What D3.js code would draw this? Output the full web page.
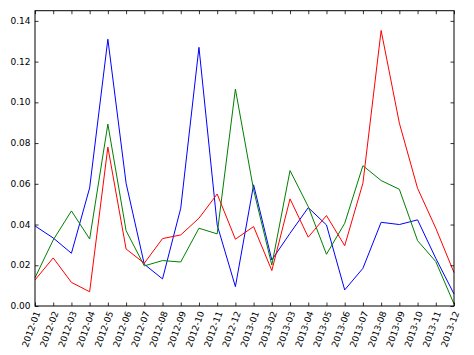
<!DOCTYPE html>
<html><head><meta charset="utf-8">
<script src="https://cdn.jsdelivr.net/npm/d3@7"></script>
<style>
html,body{margin:0;padding:0;background:#fff;}
text{font-family:"DejaVu Sans",sans-serif;}
</style>
</head><body>
<svg id="chart" width="474" height="355"></svg>
<script>
const months = ["2012-01","2012-02","2012-03","2012-04","2012-05","2012-06","2012-07","2012-08","2012-09","2012-10","2012-11","2012-12",
  "2013-01","2013-02","2013-03","2013-04","2013-05","2013-06","2013-07","2013-08","2013-09","2013-10","2013-11","2013-12"];
const blueValues  = [0.0393,0.0334,0.0259,0.0580,0.1310,0.0603,0.0205,0.0133,0.0480,0.1270,0.0398,0.0095,
  0.0595,0.0226,0.0357,0.0483,0.0398,0.0079,0.0185,0.0411,0.0400,0.0423,0.0234,0.0059];
const greenValues = [0.0139,0.0324,0.0467,0.0329,0.0893,0.0370,0.0197,0.0223,0.0216,0.0382,0.0354,0.1065,
  0.0570,0.0201,0.0665,0.0488,0.0254,0.0406,0.0689,0.0616,0.0573,0.0321,0.0218,0.0010];
const redValues   = [0.0128,0.0236,0.0116,0.0070,0.0780,0.0280,0.0210,0.0331,0.0349,0.0431,0.0550,0.0328,
  0.0390,0.0174,0.0526,0.0338,0.0444,0.0296,0.0603,0.1353,0.0898,0.0578,0.0382,0.0164];
const yTicks = [0.00,0.02,0.04,0.06,0.08,0.10,0.12,0.14];
const seriesColors = ["#0000ff","#008000","#ff0000"];

const svg = d3.select("#chart");
const L = 35, R = 454, T = 10.7, B = 306;
const x = d3.scalePoint().domain(months).range([L, R]);
const y = d3.scaleLinear().domain([0, 0.145]).range([B, T]);

const series = [blueValues, greenValues, redValues];
const line = d3.line().x((d,i)=>x(months[i])).y(d=>y(d));
series.forEach((vals, k) => {
  svg.append("path").datum(vals).attr("d", line)
    .attr("fill","none").attr("stroke", seriesColors[k]).attr("stroke-width", 1)
    .attr("stroke-linejoin","miter");
});

const tk = 3.5;
// bottom axis
const gB = svg.append("g").attr("transform",`translate(0,${B})`)
  .call(d3.axisBottom(x).tickSizeInner(-tk).tickSizeOuter(0).tickFormat(""));
// top axis
const gT = svg.append("g").attr("transform",`translate(0,${T})`)
  .call(d3.axisTop(x).tickSizeInner(-tk).tickSizeOuter(0).tickFormat(""));
// left
const gL = svg.append("g").attr("transform",`translate(${L},0)`)
  .call(d3.axisLeft(y).tickValues(yTicks).tickSizeInner(-tk).tickSizeOuter(0).tickFormat(""));
const gR = svg.append("g").attr("transform",`translate(${R},0)`)
  .call(d3.axisRight(y).tickValues(yTicks).tickSizeInner(-tk).tickSizeOuter(0).tickFormat(""));
[gB,gT,gL,gR].forEach(g=>{
  g.selectAll(".domain").remove();
  g.selectAll(".tick line").attr("stroke","#000").attr("stroke-width",0.8);
});

svg.append("rect").attr("x",L).attr("y",T).attr("width",R-L).attr("height",B-T)
  .attr("fill","none").attr("stroke","#000").attr("stroke-width",1);

// y labels
svg.append("g").selectAll("text").data(yTicks).join("text")
  .attr("x", L-4.5).attr("y", d=>y(d)).attr("dy","0.35em")
  .attr("text-anchor","end").attr("font-size","9px").attr("fill","#000")
  .text(d=>d3.format(".2f")(d));

// x labels
svg.append("g").selectAll("text").data(months).join("text")
  .attr("transform", d=>`translate(${x(d)+5.5},${B+6.5}) rotate(-70)`)
  .attr("text-anchor","end").attr("font-size","9px").attr("fill","#000")
  .text(d=>d);
</script>
</body></html>
